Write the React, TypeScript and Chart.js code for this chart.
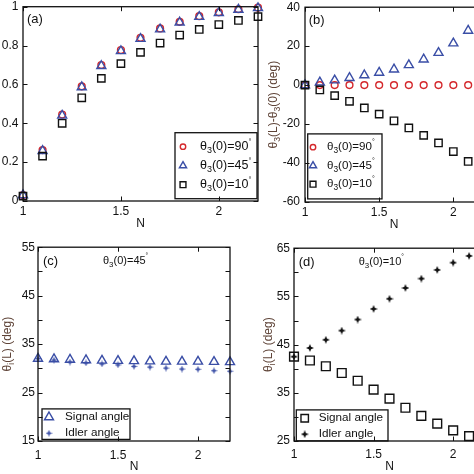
import React, { useEffect, useRef } from 'react';
import { Chart, registerables } from 'chart.js';
import { drawPoint } from 'chart.js/helpers';

Chart.register(...registerables);

// ---------- data ----------
const N_VALUES = [1.0, 1.1, 1.2, 1.3, 1.4, 1.5, 1.6, 1.7, 1.8, 1.9, 2.0, 2.1, 2.2];
const X_TICKS = [1, 1.5, 2];
const X_TICK_LABELS = ['1', '1.5', '2'];

// panel (a)
const A_THETA90 = [0.03, 0.262, 0.445, 0.59, 0.70, 0.777, 0.84, 0.888, 0.922, 0.951, 0.971, 0.987, 0.995];
const A_THETA45 = [0.03, 0.258, 0.44, 0.586, 0.695, 0.772, 0.835, 0.884, 0.919, 0.948, 0.968, 0.985, 0.993];
const A_THETA10 = [0.025, 0.231, 0.40, 0.531, 0.631, 0.707, 0.765, 0.813, 0.854, 0.883, 0.908, 0.929, 0.949];
const A_Y_TICKS = [0, 0.2, 0.4, 0.6, 0.8, 1];
const A_Y_LABELS = ['0', '0.2', '0.4', '0.6', '0.8', '1'];

// panel (b)
const B_THETA90 = [0, 0, 0, 0, 0, 0, 0, 0, 0, 0, 0, 0, 0];
const B_THETA45 = [0, 1.4, 2.5, 3.7, 5.1, 6.4, 8.1, 10.3, 13.2, 16.6, 21.5, 28.0, 37];
const B_THETA10 = [0, -2.5, -5.4, -8.3, -11.7, -14.9, -18.3, -22.0, -25.8, -29.7, -34.1, -39.2, -45];
const B_Y_TICKS = [-60, -40, -20, 0, 20, 40];
const B_Y_LABELS = ['-60', '-40', '-20', '0', '20', '40'];

// panel (c)
const C_SIGNAL = [32.0, 31.9, 31.8, 31.7, 31.6, 31.55, 31.5, 31.45, 31.4, 31.4, 31.4, 31.35, 31.3];
const C_IDLER = [32.0, 31.7, 31.3, 31.1, 30.9, 30.7, 30.4, 30.25, 30.05, 29.85, 29.8, 29.5, 29.4];
const C_Y_TICKS = [15, 20, 25, 30, 35, 40, 45, 50, 55];
const C_Y_LABELS = ['15', '', '25', '', '35', '', '45', '', '55'];

// panel (d)
const D_SIGNAL = [42.5, 41.7, 40.5, 39.1, 37.5, 35.65, 33.8, 31.9, 30.2, 28.6, 27.2, 26.0, 25.2];
const D_IDLER = [42.5, 44.3, 46.0, 47.9, 50.2, 52.4, 54.5, 56.75, 58.7, 60.5, 62.0, 63.4, 64.6];
const D_Y_TICKS = [25, 30, 35, 40, 45, 50, 55, 60, 65];
const D_Y_LABELS = ['25', '', '35', '', '45', '', '55', '', '65'];

// text ('_x' = subscript x, '^x' = superscript x)
const LEGEND_THETA = ['θ_3(0)=90^°', 'θ_3(0)=45^°', 'θ_3(0)=10^°'];
const LEGEND_ANGLE = ['Signal angle', 'Idler angle'];
const TITLE_B = 'θ_3(L)-θ_3(0) (deg)';
const TITLE_CD = 'θ_i(L) (deg)';
const NOTE_C = 'θ_3(0)=45^°';
const NOTE_D = 'θ_3(0)=10^°';

// ---------- styles ----------
const FONT = '"Liberation Sans", Arial, Helvetica, sans-serif';
const RED = '#d4282c';
const BLUE = '#3a4ea6';
const BLACK = '#111111';
const TITLE_COLOR = '#5f4438';

type Seg = { t: string; k: 'n' | 'sub' | 'sup' };

function parseRich(s: string): Seg[] {
  const out: Seg[] = [];
  let buf = '';
  for (let i = 0; i < s.length; i++) {
    const ch = s[i];
    if ((ch === '_' || ch === '^') && i + 1 < s.length) {
      if (buf) out.push({ t: buf, k: 'n' });
      buf = '';
      out.push({ t: s[i + 1], k: ch === '_' ? 'sub' : 'sup' });
      i++;
    } else {
      buf += ch;
    }
  }
  if (buf) out.push({ t: buf, k: 'n' });
  return out;
}

function segSize(seg: Seg, size: number) {
  return seg.k === 'n' ? size : seg.k === 'sub' ? size * 0.72 : size * 0.6;
}

function drawRich(ctx: CanvasRenderingContext2D, text: string, x: number, y: number, size: number, color: string, align: 'left' | 'center') {
  const segs = parseRich(text);
  ctx.save();
  ctx.textBaseline = 'middle';
  ctx.textAlign = 'left';
  ctx.fillStyle = color;
  let total = 0;
  const widths = segs.map((sg) => {
    ctx.font = `${segSize(sg, size)}px ${FONT}`;
    const w = ctx.measureText(sg.t).width;
    total += w;
    return w;
  });
  let cx = align === 'center' ? x - total / 2 : x;
  segs.forEach((sg, i) => {
    ctx.font = `${segSize(sg, size)}px ${FONT}`;
    const dy = sg.k === 'sub' ? size * 0.32 : sg.k === 'sup' ? -size * 0.42 : 0;
    ctx.fillText(sg.t, cx, y + dy);
    cx += widths[i];
  });
  ctx.restore();
}

function makeStar(size: number, color: string): HTMLCanvasElement {
  const c = document.createElement('canvas');
  c.width = size;
  c.height = size;
  const g = c.getContext('2d')!;
  const r = size / 2;
  const k = r * 0.4;
  g.translate(r, r);
  g.beginPath();
  for (let i = 0; i < 8; i++) {
    const ang = (i * Math.PI) / 4 - Math.PI / 2;
    const rr = i % 2 === 0 ? r : k;
    g.lineTo(Math.cos(ang) * rr, Math.sin(ang) * rr);
  }
  g.closePath();
  g.fillStyle = color;
  g.fill();
  return c;
}

const matlabPlugin = {
  id: 'matlab',
  afterDraw(chart: any, _args: any, opts: any) {
    const { ctx, chartArea: ca } = chart;
    ctx.save();
    // y title (rotated, with subscripts)
    if (opts.yTitle) {
      ctx.save();
      ctx.translate(opts.yTitle.x, (ca.top + ca.bottom) / 2);
      ctx.rotate(-Math.PI / 2);
      drawRich(ctx, opts.yTitle.text, 0, 0, 12, TITLE_COLOR, 'center');
      ctx.restore();
    }
    // legend box
    const lg = opts.legend;
    if (lg) {
      const bx = ca.left + lg.x;
      const by = ca.top + lg.y;
      ctx.fillStyle = '#ffffff';
      ctx.fillRect(bx, by, lg.w, lg.h);
      ctx.lineWidth = 1.3;
      ctx.strokeStyle = BLACK;
      ctx.strokeRect(bx, by, lg.w, lg.h);
      chart.data.datasets.forEach((ds: any, i: number) => {
        const y = ca.top + lg.rows[i];
        ctx.strokeStyle = ds.borderColor;
        ctx.fillStyle = ds.backgroundColor;
        ctx.lineWidth = ds.borderWidth;
        drawPoint(
          ctx,
          { pointStyle: ds.pointStyle, radius: ds.pointRadius * lg.scale, borderWidth: ds.borderWidth, rotation: 0 } as any,
          ca.left + lg.markerX,
          y
        );
        drawRich(ctx, ds.label, ca.left + lg.textX, y, lg.size, BLACK, 'left');
      });
    }
    // notes
    (opts.notes || []).forEach((n: any) => {
      drawRich(ctx, n.text, ca.left + n.x, ca.top + n.y, n.size, BLACK, 'left');
    });
    // box and inward ticks
    ctx.strokeStyle = BLACK;
    ctx.lineWidth = 1.3;
    ctx.strokeRect(ca.left, ca.top, ca.right - ca.left, ca.bottom - ca.top);
    ctx.lineWidth = 1;
    const L = 4.5;
    const xs = chart.scales.x;
    const ys = chart.scales.y;
    ctx.beginPath();
    xs.ticks.forEach((t: any) => {
      const px = Math.round(xs.getPixelForValue(t.value)) + 0.5;
      ctx.moveTo(px, ca.bottom);
      ctx.lineTo(px, ca.bottom - L);
      ctx.moveTo(px, ca.top);
      ctx.lineTo(px, ca.top + L);
    });
    ys.ticks.forEach((t: any) => {
      const py = Math.round(ys.getPixelForValue(t.value)) + 0.5;
      ctx.moveTo(ca.left, py);
      ctx.lineTo(ca.left + L, py);
      ctx.moveTo(ca.right, py);
      ctx.lineTo(ca.right - L, py);
    });
    ctx.stroke();
    ctx.restore();
  },
};

type PanelSpec = {
  left: number;
  top: number;
  width: number;
  height: number;
  yW: number;
  xH: number;
  yMin: number;
  yMax: number;
  yTicks: number[];
  yLabels: string[];
  yTitle?: { text: string; x: number };
  xTickPad: number;
  yTickPad: number;
  xTitlePad: number;
  datasets: any[];
  legend: any;
  notes: any[];
};

function series(label: string, values: number[], style: any, idx: number, total: number) {
  return {
    label,
    data: N_VALUES.map((x, i) => ({ x, y: values[i] })),
    showLine: false,
    clip: false,
    order: total - idx,
    backgroundColor: 'rgba(0,0,0,0)',
    borderWidth: 1.4,
    ...style,
  };
}

function buildConfig(p: PanelSpec): any {
  return {
    type: 'scatter',
    data: { datasets: p.datasets },
    options: {
      animation: false,
      responsive: false,
      maintainAspectRatio: false,
      layout: { padding: { top: 10, right: 10, bottom: 0, left: 0 } },
      plugins: {
        legend: { display: false },
        tooltip: { enabled: false },
        matlab: { legend: p.legend, notes: p.notes, yTitle: p.yTitle },
      },
      scales: {
        x: {
          type: 'linear',
          min: 1,
          max: 2.2,
          grid: { display: false, drawTicks: false },
          border: { display: false },
          afterBuildTicks: (s: any) => {
            s.ticks = X_TICKS.map((v) => ({ value: v }));
          },
          afterFit: (s: any) => {
            s.height = p.xH;
          },
          ticks: {
            autoSkip: false,
            maxRotation: 0,
            padding: p.xTickPad,
            color: BLACK,
            font: { family: FONT, size: 12 },
            callback: (_v: any, i: number) => X_TICK_LABELS[i],
          },
          title: {
            display: true,
            text: 'N',
            color: BLACK,
            font: { family: FONT, size: 12 },
            padding: { top: 0, bottom: p.xTitlePad },
          },
        },
        y: {
          type: 'linear',
          min: p.yMin,
          max: p.yMax,
          grid: { display: false, drawTicks: false },
          border: { display: false },
          afterBuildTicks: (s: any) => {
            s.ticks = p.yTicks.map((v) => ({ value: v }));
          },
          afterFit: (s: any) => {
            s.width = p.yW;
          },
          ticks: {
            autoSkip: false,
            padding: p.yTickPad,
            color: BLACK,
            font: { family: FONT, size: 12 },
            callback: (_v: any, i: number) => p.yLabels[i],
          },
          title: { display: false },
        },
      },
    },
    plugins: [matlabPlugin],
  };
}

const PANEL_GEOM = [
  { left: 0, top: -5, width: 268, height: 242 },
  { left: 260, top: -5, width: 233, height: 243 },
  { left: 0, top: 237, width: 240, height: 240 },
  { left: 255, top: 237, width: 240, height: 240 },
];

export default function App() {
  const refs = [useRef<HTMLCanvasElement>(null), useRef<HTMLCanvasElement>(null), useRef<HTMLCanvasElement>(null), useRef<HTMLCanvasElement>(null)];

  useEffect(() => {
    const circle = { pointStyle: 'circle', pointRadius: 3.4, borderColor: RED };
    const tri = { pointStyle: 'triangle', pointRadius: 5.2, borderColor: BLUE };
    const sq = { pointStyle: 'rect', pointRadius: 5.2, borderColor: BLACK };
    const sqD = { pointStyle: 'rect', pointRadius: 6.2, borderColor: BLACK };
    const starC = { pointStyle: makeStar(7, BLUE), pointRadius: 3, borderColor: BLUE, backgroundColor: BLUE };
    const starD = { pointStyle: makeStar(8, BLACK), pointRadius: 3, borderColor: BLACK, backgroundColor: BLACK };

    const specs: PanelSpec[] = [
      {
        ...PANEL_GEOM[0],
        yW: 23, xH: 36, yMin: 0, yMax: 1, yTicks: A_Y_TICKS, yLabels: A_Y_LABELS,
        xTickPad: 3, yTickPad: 4.5, xTitlePad: 6,
        datasets: [
          series(LEGEND_THETA[0], A_THETA90, circle, 0, 3),
          series(LEGEND_THETA[1], A_THETA45, tri, 1, 3),
          series(LEGEND_THETA[2], A_THETA10, sq, 2, 3),
        ],
        legend: { x: 152, y: 126, w: 82, h: 66, rows: [140, 159, 178], markerX: 160, textX: 177, scale: 0.8, size: 12.5 },
        notes: [{ text: '(a)', x: 4, y: 13, size: 13 }],
      },
      {
        ...PANEL_GEOM[1],
        yW: 45, xH: 36, yMin: -60, yMax: 40, yTicks: B_Y_TICKS, yLabels: B_Y_LABELS,
        yTitle: { text: TITLE_B, x: 13.5 },
        xTickPad: 3, yTickPad: 5, xTitlePad: 6,
        datasets: [
          series(LEGEND_THETA[0], B_THETA90, circle, 0, 3),
          series(LEGEND_THETA[1], B_THETA45, tri, 1, 3),
          series(LEGEND_THETA[2], B_THETA10, sq, 2, 3),
        ],
        legend: { x: 2.7, y: 126.7, w: 74.3, h: 65, rows: [140, 158.5, 177], markerX: 8, textX: 22, scale: 0.8, size: 11.6 },
        notes: [{ text: '(b)', x: 3.7, y: 13, size: 13 }],
      },
      {
        ...PANEL_GEOM[2],
        yW: 38, xH: 36, yMin: 15, yMax: 55, yTicks: C_Y_TICKS, yLabels: C_Y_LABELS,
        yTitle: { text: TITLE_CD, x: 8 },
        xTickPad: 7, yTickPad: 3, xTitlePad: 3,
        datasets: [
          series(LEGEND_ANGLE[0], C_SIGNAL, tri, 0, 2),
          series(LEGEND_ANGLE[1], C_IDLER, starC, 1, 2),
        ],
        legend: { x: 4, y: 161.7, w: 88, h: 30.5, rows: [170, 186], markerX: 11, textX: 27, scale: 1, size: 11.7 },
        notes: [
          { text: '(c)', x: 5, y: 14, size: 13 },
          { text: NOTE_C, x: 65, y: 14, size: 11 },
        ],
      },
      {
        ...PANEL_GEOM[3],
        yW: 39, xH: 36, yMin: 25, yMax: 65, yTicks: D_Y_TICKS, yLabels: D_Y_LABELS,
        yTitle: { text: TITLE_CD, x: 14 },
        xTickPad: 6, yTickPad: 4, xTitlePad: 3,
        datasets: [
          series(LEGEND_ANGLE[0], D_SIGNAL, sqD, 0, 2),
          series(LEGEND_ANGLE[1], D_IDLER, starD, 1, 2),
        ],
        legend: { x: 2.3, y: 161.7, w: 91.7, h: 31, rows: [170, 186], markerX: 10.7, textX: 24.7, scale: 0.85, size: 11.7 },
        notes: [
          { text: '(d)', x: 4.7, y: 14, size: 13 },
          { text: NOTE_D, x: 64.7, y: 14, size: 11 },
        ],
      },
    ];

    const charts = specs.map((s, i) => new Chart(refs[i].current!, buildConfig(s)));
    return () => charts.forEach((c) => c.destroy());
  }, []);

  return (
    <div style={{ position: 'fixed', left: 0, top: 0, width: 474, height: 474, overflow: 'hidden', background: '#ffffff' }}>
      {PANEL_GEOM.map((g, i) => (
        <canvas
          key={i}
          ref={refs[i]}
          width={g.width}
          height={g.height}
          style={{ position: 'absolute', left: g.left, top: g.top, width: g.width, height: g.height }}
        />
      ))}
    </div>
  );
}
